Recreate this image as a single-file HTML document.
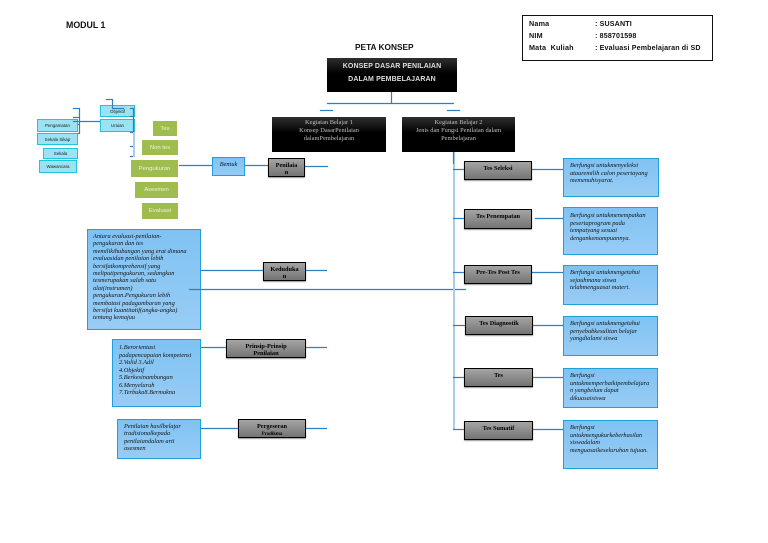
<!DOCTYPE html>
<html><head><meta charset="utf-8">
<style>
html,body{margin:0;padding:0;background:#fff}
#p{position:relative;width:768px;height:543px;overflow:hidden;background:#fff;font-family:"Liberation Serif",serif;filter:blur(.35px)}
#p div{position:absolute;box-sizing:border-box}
.l{background:#2f7fc0;box-shadow:0 0 .3px .1px #2f7fc0}
.c{background:linear-gradient(#7fc2f3,#98ccf4);border:1.5px solid #20a0da;color:#111;font-style:italic;font-size:6.35px;line-height:7.4px;padding:3px 5px;white-space:nowrap}
.g{background:linear-gradient(#a4a4a4,#747474);border:1.5px solid #000;color:#000;font-weight:bold;font-size:6.3px;line-height:7.4px;text-align:center;padding-top:3px;box-shadow:0 1px 1px #999;white-space:nowrap}
.t{background:#9be2f2;border:1.2px solid #1ec6dd;color:#222;font-family:"Liberation Sans",sans-serif;font-size:4.4px;text-align:center;display:flex;align-items:center;justify-content:center}
.v{background:#9fbc4e;color:#eef3d8;font-family:"Liberation Sans",sans-serif;font-size:5.9px;text-align:center;display:flex;align-items:center;justify-content:center}
.k{background:linear-gradient(#303030,#000 45%);color:#bdbdbd;font-size:6.4px;line-height:8px;text-align:center;padding-top:2px;white-space:nowrap}
.s{font-family:"Liberation Sans",sans-serif;font-weight:bold;color:#111;white-space:nowrap}
</style></head><body><div id="p">

<div class="s" style="left:66px;top:20px;font-size:8.8px;line-height:11px">MODUL 1</div>
<div class="s" style="left:355px;top:42px;font-size:8.3px;line-height:10px">PETA KONSEP</div>

<div style="left:522px;top:15px;width:191px;height:46px;border:1.3px solid #111"></div>
<div class="s" style="left:529px;top:18px;font-size:7.2px;line-height:12px;letter-spacing:.2px">Nama<br>NIM<br>Mata&nbsp; Kuliah</div>
<div class="s" style="left:595px;top:18px;font-size:7.1px;line-height:12px;letter-spacing:.15px">: SUSANTI<br>: 858701598<br>: Evaluasi Pembelajaran di SD</div>

<div class="k" style="left:327px;top:58px;width:130px;height:34px;font-family:'Liberation Sans',sans-serif;font-weight:bold;font-size:7px;line-height:12.5px;padding-top:3px;color:#ddd;letter-spacing:.12px;white-space:nowrap">KONSEP DASAR PENILAIAN<br>DALAM PEMBELAJARAN</div>
<div class="l" style="left:391px;top:92px;width:1px;height:11px"></div>
<div class="l" style="left:327px;top:103px;width:127px;height:1px"></div>
<div class="l" style="left:320px;top:110px;width:13px;height:1px"></div>
<div class="l" style="left:447px;top:110px;width:13px;height:1px"></div>

<div class="k" style="left:272px;top:117px;width:114px;height:35px">Kegiatan Belajar 1<br>Konsep DasarPenilaian<br>dalamPembelajaran</div>
<div class="k" style="left:402px;top:117px;width:113px;height:35px">Kegiatan Belajar 2<br>Jenis dan Fungsi Penilaian dalam<br>Pembelajaran</div>

<!-- top-left connectors -->
<div class="l" style="left:79px;top:108px;width:1px;height:26px"></div>
<div class="l" style="left:73px;top:108px;width:6px;height:1px"></div>
<div class="l" style="left:73px;top:117px;width:6px;height:1px"></div>
<div class="l" style="left:73px;top:124px;width:6px;height:1px"></div>
<div class="l" style="left:73px;top:133px;width:6px;height:1px"></div>

<div class="t" style="left:100px;top:105px;width:35px;height:12px">Objektif</div>
<div class="t" style="left:100px;top:119px;width:35px;height:13px">Uraian</div>
<div class="t" style="left:37px;top:119px;width:41px;height:13px">Pengamatan</div>
<div class="t" style="left:37px;top:133px;width:41px;height:12px">Sekala Sikap</div>
<div class="t" style="left:43px;top:148px;width:35px;height:11px">Sekala</div>
<div class="t" style="left:39px;top:160px;width:38px;height:13px">Wawancara</div>

<div class="l" style="left:73px;top:121px;width:27px;height:1px"></div>
<div class="l" style="left:112px;top:99px;width:1px;height:9px"></div>
<div class="l" style="left:106px;top:99px;width:6px;height:1px"></div>
<div class="l" style="left:112px;top:108px;width:12px;height:1px"></div>
<div class="l" style="left:133px;top:108px;width:1px;height:24px"></div>
<div style="left:133px;top:132px;width:1.5px;height:25px;background:#a9cdea"></div>
<div class="l" style="left:130px;top:108px;width:3px;height:1px"></div>
<div class="l" style="left:130px;top:116px;width:3px;height:1px"></div>
<div class="l" style="left:130px;top:132px;width:3px;height:1px"></div>
<div class="l" style="left:130px;top:146px;width:3px;height:1px"></div>
<div class="l" style="left:130px;top:156px;width:3px;height:1px"></div>

<div class="v" style="left:153px;top:121px;width:24px;height:15px">Tes</div>
<div class="v" style="left:142px;top:140px;width:36px;height:15px">Non tes</div>
<div class="v" style="left:131px;top:160px;width:47px;height:17px">Pengukuran</div>
<div class="v" style="left:135px;top:182px;width:43px;height:16px">Asesmen</div>
<div class="v" style="left:142px;top:203px;width:36px;height:16px">Evaluasi</div>

<div class="l" style="left:179px;top:165px;width:33px;height:1px"></div>
<div class="c" style="left:212px;top:157px;width:33px;height:19px;padding:3px 0 0;text-align:center">Bentuk</div>
<div class="l" style="left:245px;top:165px;width:23px;height:1px"></div>
<div class="g" style="left:268px;top:158px;width:37px;height:19px;padding-top:2.5px">Penilaia<br>n</div>
<div class="l" style="left:305px;top:166px;width:23px;height:1px"></div>

<!-- left boxes -->
<div class="c" style="left:87px;top:229px;width:114px;height:101px;padding:3px 5px">Antara evaluasi-penilaian-<br>pengukuran dan tes<br>memilikihubungan yang erat dimana<br>evaluasidan penilaian lebih<br>bersifatkomprehensif yang<br>meliputipengukuran, sedangkan<br>tesmerupakan salah satu<br>alat(instrumen)<br>pengukuran.Pengukuran lebih<br>membatasi padagambaran yang<br>bersifat kuantitatif(angka-angka)<br>tentang kemajuu</div>
<div class="l" style="left:201px;top:270px;width:62px;height:1px"></div>
<div class="g" style="left:263px;top:262px;width:43px;height:19px;padding-top:2.5px">Keduduka<br>n</div>
<div class="l" style="left:306px;top:270px;width:21px;height:1px"></div>
<div class="l" style="left:189px;top:289px;width:277px;height:1px"></div>

<div class="c" style="left:112px;top:339px;width:89px;height:68px;padding:4px 6px;line-height:7.5px">1.Berorientasi<br>padapencapaian kompetensi<br>2.Valid 3.Adil<br>4.Objektif<br>5.Berkesinambungan<br>6.Menyeluruh<br>7.Terbuka8.Bermakna</div>
<div class="l" style="left:201px;top:347px;width:25px;height:1px"></div>
<div class="g" style="left:226px;top:339px;width:80px;height:19px;padding-top:2.5px">Prinsip-Prinsip<br>Penilaian</div>
<div class="l" style="left:306px;top:347px;width:21px;height:1px"></div>

<div class="c" style="left:117px;top:419px;width:84px;height:40px;padding:3px 6px">Penilaian hasilbelajar<br>tradisionalkepada<br>penilaiandalam arti<br>asesmen</div>
<div class="l" style="left:201px;top:428px;width:37px;height:1px"></div>
<div class="g" style="left:238px;top:419px;width:68px;height:19px;overflow:hidden;padding-top:2.5px">Pergeseran<br><span style="font-size:4.8px">Pradikma</span></div>
<div class="l" style="left:306px;top:428px;width:21px;height:1px"></div>

<!-- right trunk -->
<div style="left:453px;top:152px;width:1.5px;height:278px;background:#a9cdea"></div>
<div class="l" style="left:453px;top:152px;width:1px;height:12px"></div>

<div class="l" style="left:453px;top:169px;width:11px;height:1px"></div>
<div class="g" style="left:464px;top:161px;width:68px;height:19px">Tes Seleksi</div>
<div class="l" style="left:532px;top:169px;width:31px;height:1px"></div>
<div class="c" style="left:563px;top:158px;width:96px;height:39px;padding:3px 6px;line-height:7.6px">Berfungsi untukmenyeleksi<br>atauremilih calon pesertayang<br>memenuhisyarat.</div>

<div class="l" style="left:453px;top:218px;width:11px;height:1px"></div>
<div class="g" style="left:464px;top:209px;width:68px;height:20px">Tes Penempatan</div>
<div class="l" style="left:535px;top:218px;width:28px;height:1px"></div>
<div class="c" style="left:563px;top:207px;width:95px;height:48px;padding:4px 6px;line-height:7.6px">Berfungsi untukmenempatkan<br>pesertaprogram pada<br>tempatyang sesuai<br>dengankemampuannya.</div>

<div class="l" style="left:453px;top:272px;width:11px;height:1px"></div>
<div class="g" style="left:464px;top:265px;width:68px;height:19px">Pre-Tes Post Tes</div>
<div class="l" style="left:532px;top:272px;width:31px;height:1px"></div>
<div class="c" style="left:563px;top:265px;width:95px;height:40px;padding:3px 6px;line-height:7.6px">Berfungsi untukmengetahui<br>sejauhmana siswa<br>telahmenguasai materi.</div>

<div class="l" style="left:453px;top:325px;width:12px;height:1px"></div>
<div class="g" style="left:465px;top:316px;width:68px;height:19px">Tes Diagnostik</div>
<div class="l" style="left:533px;top:325px;width:30px;height:1px"></div>
<div class="c" style="left:563px;top:316px;width:95px;height:40px;padding:3px 6px;line-height:7.6px">Berfungsi untukmengetahui<br>penyebabkesulitan belajar<br>yangdialami siswa</div>

<div class="l" style="left:453px;top:377px;width:11px;height:1px"></div>
<div class="g" style="left:464px;top:368px;width:69px;height:19px">Tes</div>
<div class="l" style="left:533px;top:377px;width:30px;height:1px"></div>
<div class="c" style="left:563px;top:368px;width:95px;height:40px;padding:3px 6px;line-height:7.6px">Berfungsi<br>untukmemperbaikipembelajara<br>n yangbelum dapat<br>dikuasaisiswa</div>

<div class="l" style="left:453px;top:429px;width:11px;height:1px"></div>
<div class="g" style="left:464px;top:421px;width:69px;height:19px">Tes Sumatif</div>
<div class="l" style="left:533px;top:429px;width:30px;height:1px"></div>
<div class="c" style="left:563px;top:420px;width:95px;height:49px;padding:3px 6px;line-height:7.6px">Berfungsi<br>untukmengukurkeberhasilan<br>siswadalam<br>menguasaikeseluruhan tujuan.</div>

</div></body></html>
